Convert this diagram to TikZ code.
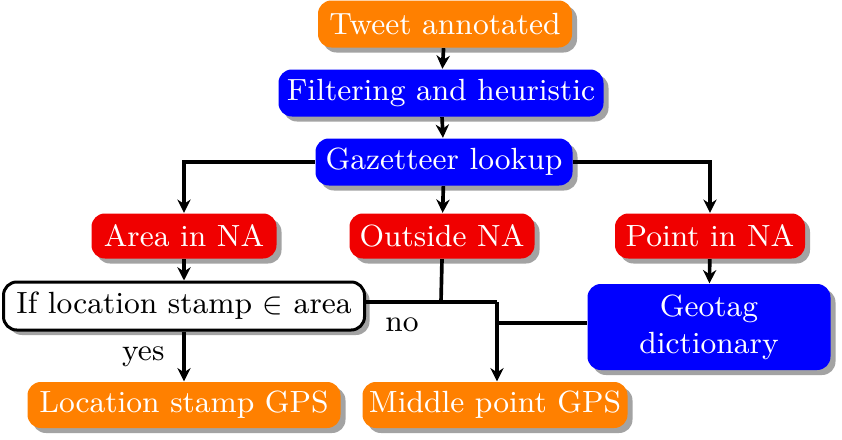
\documentclass[tikz,border=0pt]{standalone}
\usetikzlibrary{shadows,arrows.meta}
\definecolor{myorange}{RGB}{255,128,0}
\definecolor{myblue}{RGB}{0,0,255}
\definecolor{myred}{RGB}{240,0,0}
\begin{document}
\begin{tikzpicture}[x=0.3pt,y=-0.3pt,
  box/.style={rounded corners=4pt,text=white,inner sep=0pt,align=center,
    font=\fontsize{9.2}{11}\selectfont,
    drop shadow={shadow xshift=1.5pt,shadow yshift=-1.5pt,fill=black!45,opacity=0.8}},
  ob/.style={box,fill=myorange},
  bb/.style={box,fill=myblue},
  rb/.style={box,fill=myred},
  wb/.style={box,fill=white,draw=black,line width=0.9pt,text=black},
  ln/.style={line width=1.1pt},
  ar/.style={ln,-{Stealth[length=4pt,width=4pt]}},
  lab/.style={font=\fontsize{9.2}{11}\selectfont}]
\useasboundingbox (0,0) rectangle (842,439);
\node[ob,minimum width=254*0.3pt,minimum height=47*0.3pt] (tw) at (445,24) {Tweet annotated};
\node[bb,minimum width=325*0.3pt,minimum height=47*0.3pt] (fh) at (441,93) {Filtering and heuristic};
\node[bb,minimum width=257*0.3pt,minimum height=47*0.3pt] (gl) at (444,162) {Gazetteer lookup};
\node[rb,minimum width=185*0.3pt,minimum height=45*0.3pt] (an) at (184,236) {Area in NA};
\node[rb,minimum width=185*0.3pt,minimum height=45*0.3pt] (on) at (442,236) {Outside NA};
\node[rb,minimum width=190*0.3pt,minimum height=45*0.3pt] (pn) at (710,236) {Point in NA};
\node[wb,minimum width=361*0.3pt,minimum height=48*0.3pt] (if) at (184,306) {If location stamp $\in$ area};
\node[bb,minimum width=243*0.3pt,minimum height=86*0.3pt] (gd) at (709,327) {Geotag\\dictionary};
\node[ob,minimum width=313*0.3pt,minimum height=46*0.3pt] (ls) at (184,405) {Location stamp GPS};
\node[ob,minimum width=265*0.3pt,minimum height=46*0.3pt] (mp) at (495,405) {Middle point GPS};
\coordinate (j1) at (441,302);
\coordinate (j2) at (497,302);
\coordinate (j3) at (497,323);
\draw[ar] (tw) -- (fh);
\draw[ar] (fh) -- (gl);
\draw[ar] (gl) -- (on);
\draw[ar] (gl.west) -| (an.north);
\draw[ar] (gl.east) -| (pn.north);
\draw[ar] (an) -- (if);
\draw[ar] (pn) -- (gd);
\draw[ar] (if) -- node[lab,left,xshift=-2pt]{yes} (ls);
\draw[ln] (on.south) -- (j1);
\draw[ln] (if.east |- j1) -- (j1) -- (j2);
\node[lab] (no) at (402,325) {no};
\draw[ln] (gd.west |- j3) -- (j3);
\draw[ar] (j2) -- (j2 |- mp.north);
\end{tikzpicture}
\end{document}
